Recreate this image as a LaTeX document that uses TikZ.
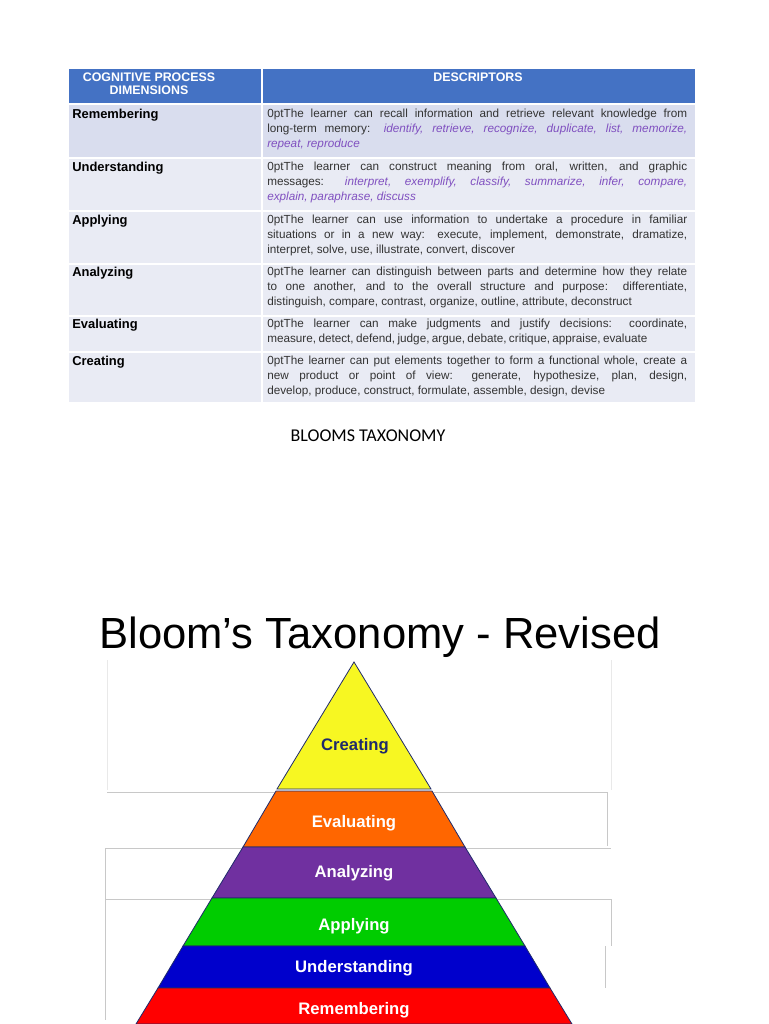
\documentclass[tikz,border=0pt]{standalone}
\usepackage{fontspec}
\setmainfont{Liberation Sans}
\newfontfamily\calib{Carlito}
\definecolor{hdr}{HTML}{4472C4}
\definecolor{rowA}{HTML}{D9DDEE}
\definecolor{rowB}{HTML}{E9EBF4}
\definecolor{txt}{HTML}{333333}
\definecolor{ital}{HTML}{8050C0}
\definecolor{navy}{HTML}{1F2A6B}
\definecolor{gline}{HTML}{C8C8C8}
\definecolor{cyel}{HTML}{F7F722}
\definecolor{corg}{HTML}{FF6600}
\definecolor{cpur}{HTML}{7030A0}
\definecolor{cgrn}{HTML}{00CC00}
\definecolor{cblu}{HTML}{0000CC}
\definecolor{cred}{HTML}{FF0000}
\tikzset{
  cell/.style={anchor=north west,inner sep=0pt,draw=white,line width=1.5pt},
  lab/.style={anchor=north west,inner sep=0pt,font=\fontsize{9.7}{11.25}\selectfont\bfseries,text=black},
  desc/.style={anchor=north west,inner sep=0pt,text width=315pt,align=justify,font=\fontsize{8.8}{11.25}\selectfont\hyphenpenalty=10000\exhyphenpenalty=10000,text=txt},
  hd/.style={inner sep=0pt,font=\fontsize{9.3}{10}\selectfont\bfseries,text=white,align=center},
  layer/.style={draw=navy,line width=0.6pt},
  plab/.style={font=\fontsize{12.5}{14}\selectfont\bfseries,text=white},
  gl/.style={draw=gline,line width=0.6pt}
}
\newcommand{\itw}[1]{\textcolor{ital}{\itshape #1}}
\begin{document}
\begin{tikzpicture}[x=0.75pt,y=-0.75pt]
\useasboundingbox[fill=white] (0,0) rectangle (768,1024);
% header
\node[cell,fill=hdr,minimum width=194*0.75pt,minimum height=36*0.75pt] (h1) at (67,67) {};
\node[cell,fill=hdr,minimum width=434*0.75pt,minimum height=36*0.75pt] (h2) at (261,67) {};
\node[hd] at (149,84) {COGNITIVE PROCESS\\DIMENSIONS};
\node[hd] at (478,77) {DESCRIPTORS};
% rows
\foreach \n/\ya/\h/\c in {r1/103/54/rowA,r2/157/53/rowB,r3/210/53/rowB,r4/263/52/rowB,r5/315/36/rowB,r6/351/51/rowB}{
  \node[cell,fill=\c,minimum width=194*0.75pt,minimum height=\h*0.75pt] (\n a) at (67,\ya) {};
  \node[cell,fill=\c,minimum width=434*0.75pt,minimum height=\h*0.75pt] (\n b) at (261,\ya) {};
}
\node[lab] (l1) at (72,109) {Remembering};
\node[lab] (l2) at (72,162) {Understanding};
\node[lab] (l3) at (72,215) {Applying};
\node[lab] (l4) at (72,267) {Analyzing};
\node[lab] (l5) at (72,319) {Evaluating};
\node[lab] (l6) at (72,356) {Creating};
\node[desc] (d1) at (267,109) {The learner can recall information and retrieve relevant knowledge from\linebreak long-term memory: \itw{identify, retrieve, recognize, duplicate, list, memorize,}\linebreak \itw{repeat, reproduce}};
\node[desc] (d2) at (267,162) {The learner can construct meaning from oral, written, and graphic\linebreak messages: \itw{interpret, exemplify, classify, summarize, infer, compare,}\linebreak \itw{explain, paraphrase, discuss}};
\node[desc] (d3) at (267,215) {The learner can use information to undertake a procedure in familiar\linebreak situations or in a new way: execute, implement, demonstrate, dramatize,\linebreak interpret, solve, use, illustrate, convert, discover};
\node[desc] (d4) at (267,267) {The learner can distinguish between parts and determine how they relate\linebreak to one another, and to the overall structure and purpose: differentiate,\linebreak distinguish, compare, contrast, organize, outline, attribute, deconstruct};
\node[desc] (d5) at (267,319) {The learner can make judgments and justify decisions: coordinate,\linebreak {\spaceskip=0.2em\relax measure, detect, defend, judge, argue, debate, critique, appraise, evaluate}};
\node[desc] (d6) at (267,356) {The learner can put elements together to form a functional whole, create a\linebreak new product or point of view: generate, hypothesize, plan, design,\linebreak develop, produce, construct, formulate, assemble, design, devise};
% captions
\node[font=\calib\fontsize{13.5}{16}\selectfont,text=black] (cap) at (368,436) {BLOOMS TAXONOMY};
\node[font=\fontsize{32.7}{36}\selectfont,text=black] (ttl) at (380,637) {Bloom’s Taxonomy - Revised};
% background grey lines
\draw[gl] (107,792) -- (607,792) -- (607,846);
\draw[gl] (105,848) -- (611,848);
\draw[gl] (105,899) -- (611,899) -- (611,946);
\draw[gl] (105,848) -- (105,1020);
\draw[gl] (605,946) -- (605,988);
\draw[gl,draw=gline!40] (107,660) -- (107,790) (611,660) -- (611,790);
% pyramid
\draw[layer,fill=cyel] (354,662) -- (431,789) -- (277,789) -- cycle;
\draw[layer,fill=corg] (276,791) -- (432,791) -- (465,847) -- (243,847) -- cycle;
\draw[layer,fill=cpur] (243,847) -- (465,847) -- (496,898) -- (212,898) -- cycle;
\draw[layer,fill=cgrn] (212,898) -- (496,898) -- (525,946) -- (183,946) -- cycle;
\draw[layer,fill=cblu] (183,946) -- (525,946) -- (550,988) -- (158,988) -- cycle;
\draw[layer,fill=cred] (158,988) -- (550,988) -- (572,1024) -- (136,1024) -- cycle;
\node[plab,text=navy] (p6) at (355,746) {Creating};
\node[plab] (p5) at (354,823) {Evaluating};
\node[plab] (p4) at (354,873) {Analyzing};
\node[plab] (p3) at (354,926) {Applying};
\node[plab] (p2) at (354,968) {Understanding};
\node[plab] (p1) at (354,1010) {Remembering};
\end{tikzpicture}
\end{document}
